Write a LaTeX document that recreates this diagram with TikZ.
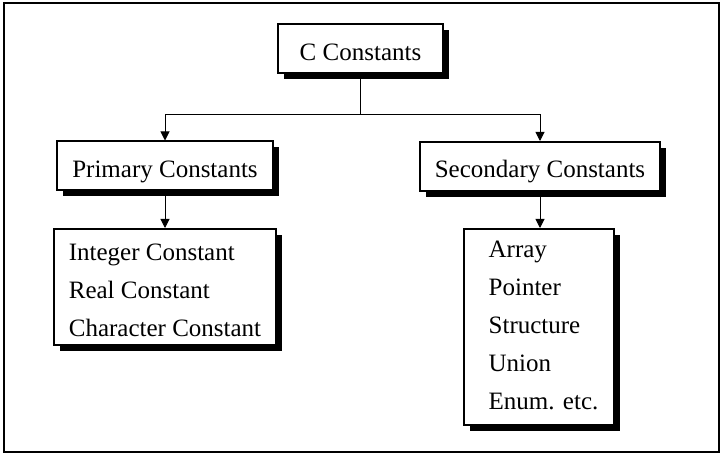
\documentclass[tikz,border=0pt]{standalone}
\usepackage{fontspec}
\setmainfont{Liberation Serif}
\usetikzlibrary{arrows.meta,shadows}

\begin{document}
\begin{tikzpicture}[
  x=0.5pt, y=-0.5pt,
  box/.style={draw, line width=1pt, fill=white, inner sep=0pt, font=\fontsize{12.5}{19}\selectfont,
    drop shadow={shadow xshift=3pt, shadow yshift=-3pt, opacity=1, fill=black}},
  head/.style={box, minimum height=24.5pt, text height=11.5pt, text depth=0pt},
  lst/.style={box, inner ysep=0pt},
  arr/.style={line width=0.5pt, -{Triangle[length=4.5pt,width=4.5pt]}},
]
\useasboundingbox (0,0) rectangle (724,459);
\draw[line width=1pt] (3.5,3.5) rectangle (719,452);
% boxes
\node[head, minimum width=82.5pt] (root) at (360.5,49) {C Constants};
\node[head, minimum width=108pt] (prim) at (165,166) {Primary Constants};
\node[head, minimum width=120pt] (sec) at (540,166.5) {Secondary Constants};
\node[lst, inner xsep=6.5pt, minimum width=111pt, text height=16pt, text depth=42pt] (prim list) at (165,287)
  {\begin{tabular}[t]{@{}l@{}}Integer Constant\\Real Constant\\Character Constant\end{tabular}};
\node[lst, inner xsep=8pt, text height=14.5pt, text depth=83.5pt] (sec list) at (539,327)
  {\begin{tabular}[t]{@{\hspace{4.5pt}}l@{}}Array\\Pointer\\Structure\\Union\\Enum. etc.\end{tabular}};
% connectors
\coordinate (fork) at (360.5,115);
\draw[line width=0.5pt] (root.south) -- (fork);
\draw[arr] (fork) -| (prim.north);
\draw[arr] (fork) -| (sec.north);
\draw[arr] (prim.south) -- (prim list.north);
\draw[arr] (sec.south) -- (sec.south |- sec list.north);
\end{tikzpicture}
\end{document}
